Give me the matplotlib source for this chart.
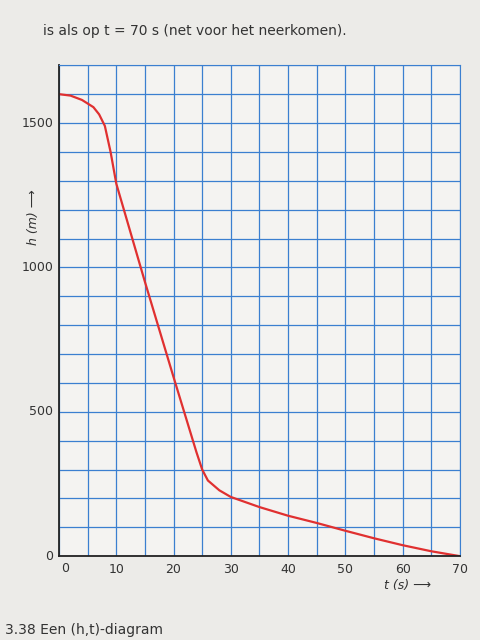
import numpy as np
import matplotlib.pyplot as plt

# (h,t) diagram
t = [0, 2, 4, 6, 7, 8, 9, 10, 15, 20, 24, 25, 26, 28, 30, 35, 40, 45, 50, 55, 60, 65, 70]
h = [1600, 1595, 1580, 1555, 1530, 1490, 1400, 1290, 950, 620, 360, 300, 262, 228, 205, 170, 140, 115, 88, 62, 38, 17, 0]
x_ticks = [10, 20, 30, 40, 50, 60, 70]
y_ticks = [500, 1000, 1500]

fig = plt.figure(figsize=(4.8, 6.4), dpi=100, facecolor='#ecebe8')
ax = fig.add_axes([0.123, 0.131, 0.835, 0.767], facecolor='#f4f3f1')

ax.set_xticks(np.arange(0, 71, 5))
ax.set_yticks(np.arange(0, 1701, 100))
ax.grid(True, color='#3b7fd0', linewidth=0.9)
ax.set_xticklabels([])
ax.set_yticklabels([])
ax.tick_params(length=0)
for s in ax.spines.values():
    s.set_color('#3b7fd0')
ax.spines['bottom'].set_color('#222222')
ax.spines['left'].set_color('#222222')
ax.spines['bottom'].set_linewidth(1.3)
ax.spines['left'].set_linewidth(1.3)

ax.plot(t, h, color='#e03030', linewidth=1.6)
ax.set_xlim(0, 70)
ax.set_ylim(0, 1700)

for xv in x_ticks:
    ax.text(xv, -25, str(xv), ha='center', va='top', fontsize=9, color='#333333')
for yv in y_ticks:
    ax.text(-1, yv, str(yv), ha='right', va='center', fontsize=9, color='#333333')
ax.text(-1, 0, '0', ha='right', va='center', fontsize=9, color='#333333')
ax.text(0.3, -20, '0', ha='left', va='top', fontsize=9, color='#333333')

fig.text(0.07, 0.66, 'h (m) ⟶', rotation=90, ha='center', va='center',
         fontsize=9, style='italic', color='#333333')
fig.text(0.85, 0.085, 't (s) ⟶', ha='center', va='center',
         fontsize=9, style='italic', color='#333333')
fig.text(0.09, 0.945, 'is als op t = 70 s (net voor het neerkomen).', fontsize=10, color='#333333')
fig.text(0.01, 0.01, '3.38 Een (h,t)-diagram', fontsize=10, color='#333333')

fig.savefig('out.png', dpi=100, facecolor=fig.get_facecolor())
